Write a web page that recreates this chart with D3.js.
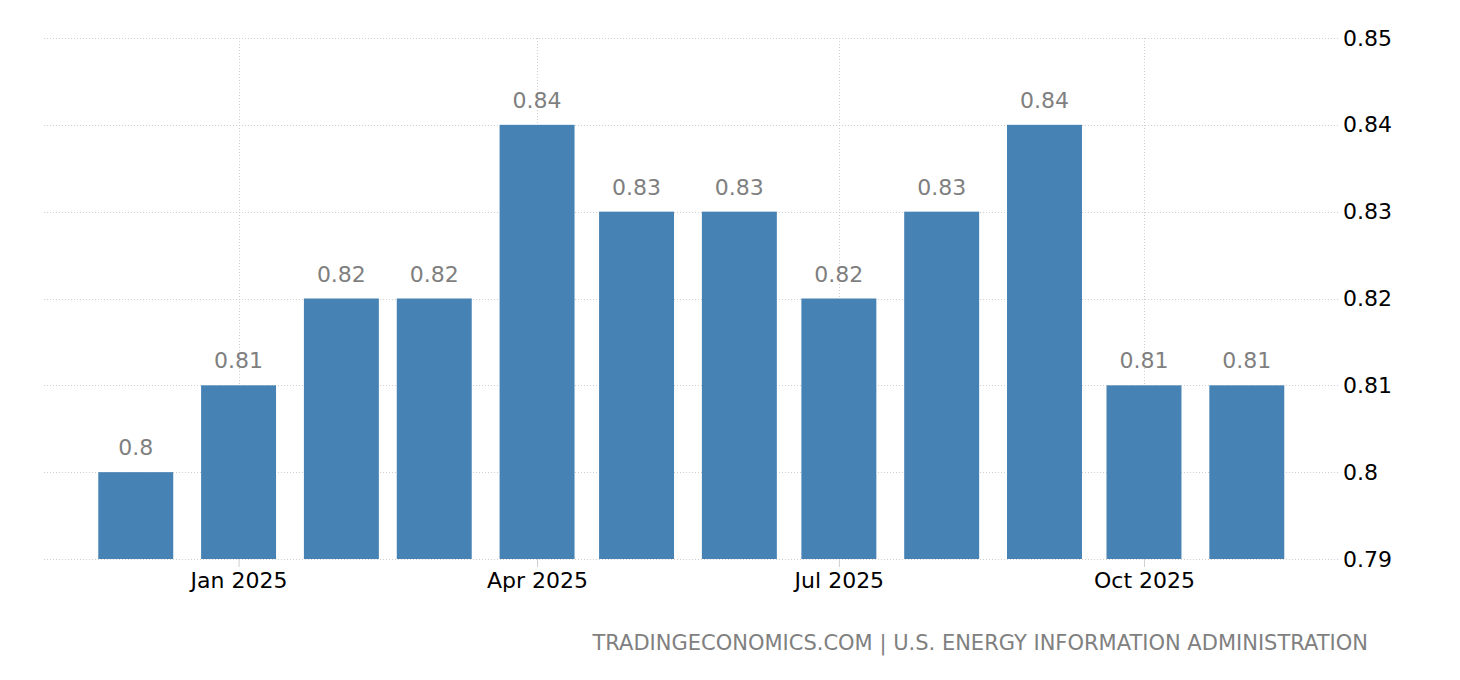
<!DOCTYPE html>
<html>
<head>
  <meta charset="utf-8">
  <title>Bar chart</title>
  <script src="https://d3js.org/d3.v7.min.js"></script>
  <style>
    body { margin: 0; background: #fff; }
    text { font-family: "DejaVu Sans", Verdana, sans-serif; }
  </style>
</head>
<body>
  <svg id="grafico"></svg>

  <script>
    // months (first day) and values
    const meses = ["2024-12-01", "2025-01-01", "2025-02-01", "2025-03-01", "2025-04-01", "2025-05-01",
                   "2025-06-01", "2025-07-01", "2025-08-01", "2025-09-01", "2025-10-01", "2025-11-01"];
    const valores = [0.80, 0.81, 0.82, 0.82, 0.84, 0.83, 0.83, 0.82, 0.83, 0.84, 0.81, 0.81];
    const ticksY = [0.79, 0.80, 0.81, 0.82, 0.83, 0.84, 0.85];
    const ticksX = ["2025-01-01", "2025-04-01", "2025-07-01", "2025-10-01"];
    const fuente = "TRADINGECONOMICS.COM | U.S. ENERGY INFORMATION ADMINISTRATION";

    const parse = d3.utcParse("%Y-%m-%d");
    const datos = meses.map((m, i) => ({ fecha: parse(m), valor: valores[i] }));

    const ancho = 1460, alto = 680;
    const izq = 44, der = 1338, arriba = 38, abajo = 559;

    const svg = d3.select("#grafico")
      .attr("width", ancho)
      .attr("height", alto);

    const x = d3.scaleUtc()
      .domain([new Date(Date.UTC(2024, 10, 3, 8)), new Date(Date.UTC(2025, 10, 28, 12))])
      .range([izq, der]);

    const y = d3.scaleLinear()
      .domain([0.79, 0.85])
      .range([abajo, arriba]);

    const dia = 24 * 3600 * 1000;
    const anchoBarra = x(new Date(x.domain()[0].getTime() + 22.6 * dia)) - izq;

    // horizontal grid
    svg.append("g")
      .selectAll("line")
      .data(ticksY)
      .join("line")
      .attr("x1", izq)
      .attr("x2", der)
      .attr("y1", d => Math.round(y(d)) + 0.5)
      .attr("y2", d => Math.round(y(d)) + 0.5)
      .style("stroke", "#cfcfcf")
      .style("stroke-dasharray", "1,2");

    // vertical grid
    svg.append("g")
      .selectAll("line")
      .data(ticksX.map(parse))
      .join("line")
      .attr("x1", d => Math.round(x(d)) + 0.5)
      .attr("x2", d => Math.round(x(d)) + 0.5)
      .attr("y1", arriba)
      .attr("y2", abajo)
      .style("stroke", "#cfcfcf")
      .style("stroke-dasharray", "1,2");

    // bars
    svg.append("g")
      .selectAll("rect")
      .data(datos)
      .join("rect")
      .attr("x", d => x(d.fecha) - anchoBarra / 2)
      .attr("width", anchoBarra)
      .attr("y", d => y(d.valor))
      .attr("height", d => abajo - y(d.valor))
      .style("fill", "#4682b4");

    // value labels
    svg.append("g")
      .selectAll("text")
      .data(datos)
      .join("text")
      .attr("x", d => x(d.fecha))
      .attr("y", d => y(d.valor) - 17)
      .attr("text-anchor", "middle")
      .style("font-size", "22px")
      .style("fill", "#7f7f7f")
      .text(d => String(+d.valor.toFixed(2)));

    // x axis
    const ejeX = svg.append("g")
      .attr("transform", `translate(0,${abajo})`)
      .call(d3.axisBottom(x)
        .tickValues(ticksX.map(parse))
        .tickFormat(d3.utcFormat("%b %Y"))
        .tickSize(8)
        .tickPadding(5));
    ejeX.select(".domain").remove();
    ejeX.selectAll(".tick line").style("stroke", "#cfcfcf");
    ejeX.selectAll("text")
      .style("font-size", "22px")
      .style("fill", "#000")
      .style("font-family", "DejaVu Sans, sans-serif");

    // y axis
    const ejeY = svg.append("g")
      .attr("transform", `translate(${der},0)`)
      .call(d3.axisRight(y)
        .tickValues(ticksY)
        .tickFormat(d => String(+d.toFixed(2)))
        .tickSize(0)
        .tickPadding(5));
    ejeY.select(".domain").remove();
    ejeY.selectAll("text")
      .style("font-size", "22px")
      .style("fill", "#000")
      .style("font-family", "DejaVu Sans, sans-serif");

    // source
    svg.append("text")
      .attr("x", 1368)
      .attr("y", 650)
      .attr("text-anchor", "end")
      .style("font-size", "21px")
      .style("fill", "#808080")
      .text(fuente);
  </script>
</body>
</html>
